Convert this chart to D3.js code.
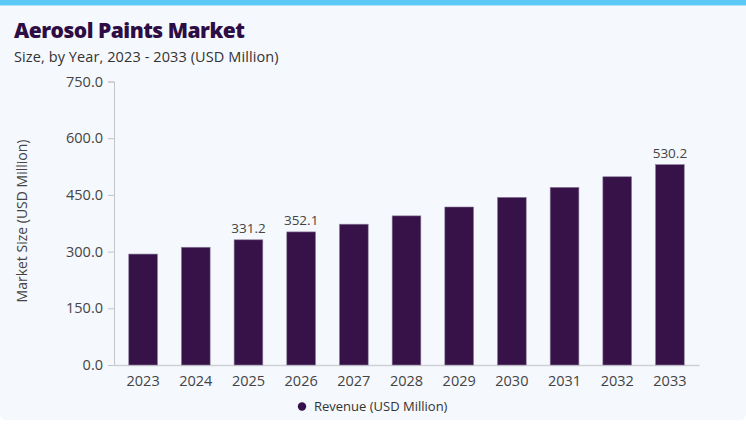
<!DOCTYPE html>
<head>
<style>
  body { margin: 0; background: #ffffff; }
  text { font-family: "Open Sans", "DejaVu Sans", sans-serif; }
</style>
</head>
<body>
<div id="chart_container"></div>

<script src="https://cdn.jsdelivr.net/npm/d3@7"></script>

<script>
const years = ['2023', '2024', '2025', '2026', '2027', '2028', '2029', '2030', '2031', '2032', '2033']
const revenue = [293.5, 311.5, 331.2, 352.1, 372.5, 394.5, 418.0, 443.5, 470.0, 498.0, 530.2]
const labelledYears = ['2025', '2026', '2033']
const yTicks = [0, 150, 300, 450, 600, 750]

const width = 746
const height = 429

const svg = d3.select('#chart_container')
              .append('svg')
              .attr('width', width)
              .attr('height', height)

// card background + top stripe
svg.append('rect')
   .attr('x', 0).attr('y', 0)
   .attr('width', width).attr('height', 420)
   .attr('rx', 6)
   .attr('fill', '#f5f8fc')
svg.append('rect')
   .attr('x', 0).attr('y', 0)
   .attr('width', width).attr('height', 5)
   .attr('fill', '#5cc8f6')
svg.append('rect')
   .attr('x', 0).attr('y', 5)
   .attr('width', width).attr('height', 1)
   .attr('fill', '#b4e3f8')

svg.append('text')
   .attr('x', 14).attr('y', 38)
   .attr('font-size', 21)
   .attr('font-weight', 800)
   .attr('letter-spacing', -0.5)
   .attr('fill', '#2e0d45')
   .text('Aerosol Paints Market')

svg.append('text')
   .attr('x', 14).attr('y', 62)
   .attr('font-size', 14.5)
   .attr('letter-spacing', 0.1)
   .attr('fill', '#333333')
   .text('Size, by Year, 2023 - 2033 (USD Million)')

const plotLeft = 114
const plotRight = 699
const plotTop = 81.5
const plotBottom = 365

const xScale = d3.scaleBand()
                 .domain(years)
                 .range([plotLeft, plotRight])
                 .paddingInner(0.455)
                 .paddingOuter(0.28)

const yScale = d3.scaleLinear()
                 .domain([0, 750])
                 .range([plotBottom, plotTop])

const yAxis = d3.axisLeft(yScale)
                .tickValues(yTicks)
                .tickFormat(d3.format('.1f'))
                .tickSize(6)
                .tickSizeOuter(6)
                .tickPadding(5)

const gy = svg.append('g')
   .attr('transform', `translate(${plotLeft}, 0)`)
   .call(yAxis)
gy.select('.domain').attr('stroke', '#c4c4c8')
gy.selectAll('.tick line').attr('stroke', '#c4c4c8')
gy.selectAll('.tick text')
  .attr('font-size', 14.5)
  .attr('fill', '#444444')
  .attr('font-family', '"Open Sans", sans-serif')

const xAxis = d3.axisBottom(xScale)
                .tickSize(0)
                .tickPadding(11)

const gx = svg.append('g')
   .attr('transform', `translate(0, ${plotBottom})`)
   .call(xAxis)
gx.select('.domain').attr('stroke', '#d0d0d6').attr('stroke-width', 1.5)
gx.selectAll('.tick text')
  .attr('font-size', 14.5)
  .attr('fill', '#444444')
  .attr('font-family', '"Open Sans", sans-serif')

svg.selectAll('.bar')
   .data(revenue)
   .enter()
   .append('rect')
   .attr('class', 'bar')
   .attr('x', (d, i) => xScale(years[i]))
   .attr('y', d => yScale(d))
   .attr('width', xScale.bandwidth())
   .attr('height', d => plotBottom - yScale(d))
   .attr('fill', '#371248')
   .attr('stroke', '#8c7f9c')
   .attr('stroke-width', 0.6)

svg.selectAll('.value-label')
   .data(years.filter(y => labelledYears.includes(y)))
   .enter()
   .append('text')
   .attr('class', 'value-label')
   .attr('x', d => xScale(d) + xScale.bandwidth() / 2)
   .attr('y', d => yScale(revenue[years.indexOf(d)]) - 7)
   .attr('text-anchor', 'middle')
   .attr('font-size', 13.5)
   .attr('fill', '#444444')
   .text(d => revenue[years.indexOf(d)].toFixed(1))

svg.append('text')
   .attr('transform', 'rotate(-90)')
   .attr('x', -221)
   .attr('y', 27)
   .attr('text-anchor', 'middle')
   .attr('font-size', 14)
   .attr('fill', '#444444')
   .text('Market Size (USD Million)')

// legend
svg.append('circle')
   .attr('cx', 302).attr('cy', 406.5)
   .attr('r', 4.2)
   .attr('fill', '#371248')
svg.append('text')
   .attr('x', 314).attr('y', 411)
   .attr('font-size', 13)
   .attr('fill', '#333333')
   .text('Revenue (USD Million)')
</script>
</body>
